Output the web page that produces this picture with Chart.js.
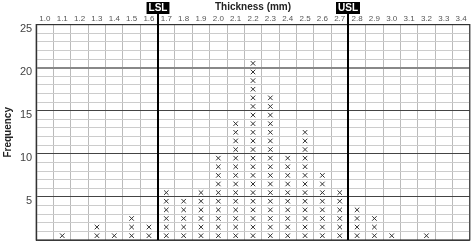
<!DOCTYPE html>
<html>
<head>
<meta charset="utf-8">
<script src="https://cdn.jsdelivr.net/npm/chart.js@4.4.1/dist/chart.umd.min.js"></script>
<style>
  body { margin: 0; background: #fff; }
  #wrap { width: 474px; height: 245px; }
</style>
</head>
<body>
<div id="wrap"><canvas id="chart"></canvas></div>
<script>
// thickness classes (mm) and how many pieces fell in each
const thicknessLabels = ['1.0', '1.1', '1.2', '1.3', '1.4', '1.5', '1.6', '1.7', '1.8', '1.9', '2.0', '2.1', '2.2',
    '2.3', '2.4', '2.5', '2.6', '2.7', '2.8', '2.9', '3.0', '3.1', '3.2', '3.3', '3.4'];
const frequencies = [0, 1, 0, 2, 1, 3, 2, 6, 5, 6, 10, 14, 21, 17, 10, 13, 8, 6, 4, 3, 1, 0, 1, 0, 0];
const specNames = ['LSL', 'USL'];
const specValues = [1.65, 2.75];
const yMax = 25;

// one "x" per piece, stacked in its column
const tallyMarks = [];
frequencies.forEach((n, i) => {
    for (let k = 0; k < n; k++) tallyMarks.push({ x: thicknessLabels[i], y: k + 0.5 });
});

const specLines = {
    id: 'specLines',
    afterDraw(chart) {
        const { ctx, chartArea, scales } = chart;
        const x = scales.x;
        ctx.save();
        // frame
        ctx.strokeStyle = '#333';
        ctx.lineWidth = 1.2;
        ctx.strokeRect(chartArea.left, chartArea.top, chartArea.right - chartArea.left, chartArea.bottom - chartArea.top);

        specValues.forEach((v, i) => {
            const idx = (v - parseFloat(thicknessLabels[0])) / 0.1;
            const px = Math.round(x.getPixelForValue(idx));
            ctx.strokeStyle = '#000';
            ctx.lineWidth = 2;
            ctx.beginPath();
            ctx.moveTo(px, 12);
            ctx.lineTo(px, chartArea.bottom);
            ctx.stroke();

            ctx.font = 'bold 10px "Liberation Sans", Arial, sans-serif';
            const w = ctx.measureText(specNames[i]).width + 4;
            ctx.fillStyle = '#000';
            ctx.fillRect(px - w / 2, 2, w, 12);
            ctx.fillStyle = '#fff';
            ctx.textAlign = 'center';
            ctx.textBaseline = 'middle';
            ctx.fillText(specNames[i], px, 8.5);
        });
        ctx.restore();
    }
};

new Chart(document.getElementById('chart'), {
    type: 'line',
    data: {
        labels: thicknessLabels,
        datasets: [{
            data: tallyMarks,
            showLine: false,
            pointStyle: 'crossRot',
            pointRadius: 3.2,
            pointHoverRadius: 3.2,
            borderColor: '#333',
            pointBorderWidth: 1
        }]
    },
    options: {
        responsive: true,
        maintainAspectRatio: false,
        animation: false,
        layout: { padding: { top: 0, right: 4, bottom: 0, left: 2 } },
        plugins: {
            legend: { display: false },
            tooltip: { enabled: false }
        },
        scales: {
            x: {
                type: 'category',
                position: 'top',
                offset: true,
                grid: { offset: true, color: '#bbb', lineWidth: 1, drawTicks: false },
                border: { color: '#333' },
                ticks: {
                    color: '#555',
                    padding: 1,
                    maxRotation: 0,
                    autoSkip: false,
                    font: { family: '"Liberation Sans", Arial, sans-serif', size: 8 }
                },
                title: {
                    display: true,
                    text: 'Thickness (mm)',
                    color: '#222',
                    padding: { top: 1, bottom: 0 },
                    font: { family: '"Liberation Sans", Arial, sans-serif', size: 10, weight: 'bold' }
                }
            },
            y: {
                min: 0,
                max: yMax,
                afterFit: (axis) => { axis.paddingBottom = 5; axis.paddingTop = 4; },
                grid: {
                    drawTicks: false,
                    color: (c) => c.tick.value === 20 ? '#888' : (c.tick.value % 5 === 0 ? '#444' : '#ccc'),
                    lineWidth: (c) => c.tick.value === 20 ? 2 : 1
                },
                border: { color: '#333', width: 1.2 },
                ticks: {
                    stepSize: 1,
                    autoSkip: false,
                    color: '#444',
                    padding: 4,
                    labelOffset: 4,
                    font: { family: '"Liberation Sans", Arial, sans-serif', size: 11 },
                    callback: (v) => (v > 0 && v % 5 === 0) ? v : ''
                },
                title: {
                    display: true,
                    text: 'Frequency',
                    color: '#222',
                    padding: { top: 0, bottom: 2 },
                    font: { family: '"Liberation Sans", Arial, sans-serif', size: 10, weight: 'bold' }
                }
            }
        }
    },
    plugins: [specLines]
});
</script>
</body>
</html>
